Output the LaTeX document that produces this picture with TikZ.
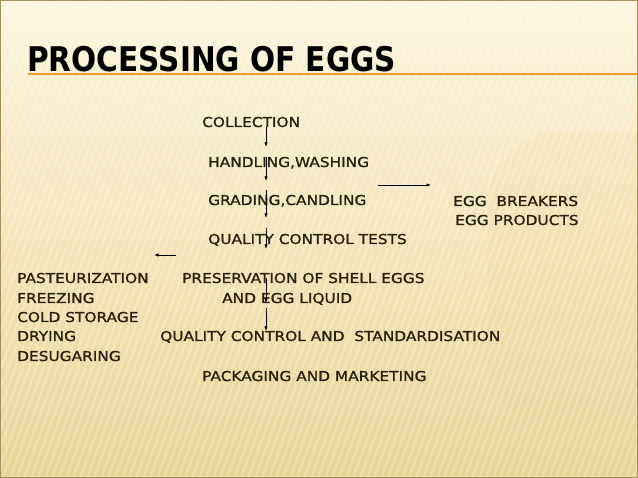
\documentclass[tikz,border=0pt]{standalone}
\usepackage{fontspec}
\setmainfont{DejaVu Sans}
\newfontfamily\titlefont[FakeStretch=0.87]{DejaVu Sans}
\newfontfamily\slidefont[FakeStretch=1.13,FakeBold=1.3]{DejaVu Sans}
\usetikzlibrary{arrows.meta,positioning}

\definecolor{slidetop}{HTML}{FDF6DD}
\definecolor{slidebottom}{HTML}{EAD496}
\definecolor{slideframe}{HTML}{A3905E}
\definecolor{titleline}{HTML}{EE9B2E}
\definecolor{inkbrown}{HTML}{2A2210}

\tikzset{
  steptext/.style={anchor=base west, inner sep=0pt, text=inkbrown,
    font=\slidefont\fontsize{13.6}{15}\selectfont},
  flow/.style={-{Latex[length=4.5pt,width=3.2pt]}, line width=0.6pt, black},
  stripe/.style={white, opacity=0.22, line width=2.4pt}
}

\begin{document}
\begin{tikzpicture}[x=1pt,y=-1pt]
  \useasboundingbox (0,0) rectangle (638,478);

  % fond de la diapositive
  \shade[top color=slidetop, bottom color=slidebottom] (0,0) rectangle (638,478);
  \begin{scope}
    \clip (0,0) rectangle (638,478);
    \fill[slidebottom, opacity=0.18, rounded corners=70pt] (488,132) rectangle (720,430);
    \foreach \i in {-200,-193,...,640}
      \draw[stripe] (\i,478) -- (\i+175,0);
  \end{scope}
  \draw[slideframe, line width=1.2pt] (0,0) rectangle (638,478);

  % titre
  \draw[draw=titleline, line width=2pt] (28,74) -- (638,74);
  \node[anchor=base west, inner sep=0pt, text=black,
    font=\titlefont\bfseries\fontsize{34}{36}\selectfont]
    (title) at (27,72) {PROCESSING OF EGGS};

  % etapes principales
  \node[steptext] (collection) at (202,127) {COLLECTION};
  \node[steptext] (handling) at (208,167) {HANDLING,WASHING};
  \node[steptext] (grading) at (208,205) {GRADING,CANDLING};
  \node[steptext] (qctests) at (208,244) {QUALITY CONTROL TESTS};
  \node[steptext] (preservation) at (182,283) {PRESERVATION OF SHELL EGGS};
  \node[steptext] (eggliquid) at (222,303) {AND EGG LIQUID};
  \node[steptext] (qcstandard) at (160,341) {QUALITY CONTROL AND \ STANDARDISATION};
  \node[steptext] (packaging) at (202,381) {PACKAGING AND MARKETING};

  % branche droite
  \node[steptext] (breakers) at (453,206) {EGG \ BREAKERS};
  \node[steptext] (products) at (455,225) {EGG PRODUCTS};

  % branche gauche
  \node[steptext] (pasteur) at (17,283) {PASTEURIZATION};
  \node[steptext] (freezing) at (17,303) {FREEZING};
  \node[steptext] (coldstorage) at (17,322) {COLD STORAGE};
  \node[steptext] (drying) at (17,341) {DRYING};
  \node[steptext] (desugaring) at (17,361) {DESUGARING};

  % fleches
  \coordinate (s1a) at (266,127); \coordinate (s1b) at (266,147);
  \coordinate (s2a) at (266,157); \coordinate (s2b) at (266,181);
  \coordinate (s3a) at (266,190); \coordinate (s3b) at (266,218);
  \coordinate (s4a) at (266,228); \coordinate (s4b) at (266,249);
  \coordinate (s5a) at (266,278); \coordinate (s5b) at (266,303);
  \coordinate (s6a) at (266,308); \coordinate (s6b) at (266,331);
  \coordinate (ra) at (378,185); \coordinate (rb) at (431,185);
  \coordinate (la) at (176,255); \coordinate (lb) at (154,255);

  \foreach \n in {1,...,6}
    \draw[flow] (s\n a) -- (s\n b);
  \draw[flow] (ra) -- (rb);
  \draw[flow] (la) -- (lb);
\end{tikzpicture}
\end{document}
